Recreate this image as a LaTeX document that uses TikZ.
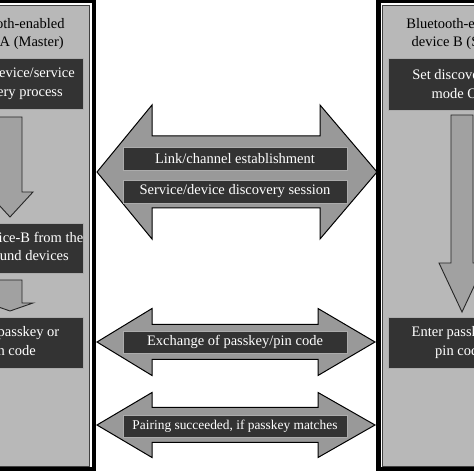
\documentclass[tikz,border=0pt]{standalone}
\usepackage{fontspec}
\setmainfont{Liberation Serif}
\definecolor{panelgray}{gray}{0.72}
\definecolor{arrowgray}{gray}{0.63}
\definecolor{bargray}{gray}{0.60}
\definecolor{boxgray}{gray}{0.20}
\begin{document}
\begin{tikzpicture}[x=1pt, y=1pt,
		panel/.style={fill=panelgray, draw=black!75, line width=0.8pt},
		darkbox/.style={fill=boxgray, draw=gray!65, line width=0.8pt, text=white, align=center, inner sep=0pt, font=\fontsize{14.5}{18.5}\selectfont},
		title/.style={align=center, font=\fontsize{14.5}{18}\selectfont},
		downarrow/.style={fill=arrowgray, draw=black!85, line width=0.9pt},
		bar/.style={fill=bargray, draw=black, line width=1pt}]
				\useasboundingbox (0,0) rectangle (474,474);
				\clip (0,0) rectangle (474,474);

				% Draw panels
				\fill[black] (-80,3) rectangle (96,480);
				\fill[white] (-80,6.5) rectangle (91.5,470.5);
				\draw[panel] (-80,8) rectangle (89.5,469);
				\fill[black] (376,3) rectangle (560,480);
				\fill[white] (380.5,6.5) rectangle (560,470.5);
				\draw[panel] (382.5,8) rectangle (560,469);

				% Titles
				\node[title] (titleA) at (11,440) {Bluetooth-enabled\\device A (Master)};
				\node[title] (titleB) at (460,440) {Bluetooth-enabled\\device B (Slave)};

				% Device A steps
				\node[darkbox, minimum width=144, minimum height=51] (startA) at (11,390.5) {Initiate device/service\\discovery process};
				\node[darkbox, minimum width=144, minimum height=50] (selectA) at (11,226) {Select device-B from the\\background devices};
				\node[darkbox, minimum width=144, minimum height=51] (passA) at (11,131.5) {Enter passkey or\\pin code};

				% Device B steps
				\node[darkbox, minimum width=144, minimum height=52] (discB) at (460,390) {Set discoverable\\mode ON};
				\node[darkbox, minimum width=144, minimum height=51] (passB) at (460,131.5) {Enter passkey or\\pin code};

				% Down arrows
				\draw[downarrow] (-2,357) -- (22,357) -- (22,282) -- (33,282) -- (10,257) -- (-13,282) -- (-2,282) -- cycle;
				\draw[downarrow] (-2,194) -- (22,194) -- (22,171) -- (33,171) -- (10,163) -- (-13,171) -- (-2,171) -- cycle;
				\draw[downarrow] (451,359) -- (473,359) -- (473,211) -- (485,211) -- (462,162) -- (439,211) -- (451,211) -- cycle;

				% Double arrows between the devices
				\foreach \yc/\hh/\sh/\xb/\xr in {302/67/36/320/377, 132/33.5/17.5/318/375, 49/32.5/17.5/318/375}
					\draw[bar] (97,\yc) -- (152,\yc+\hh) -- (152,\yc+\sh) -- (\xb,\yc+\sh) -- (\xb,\yc+\hh) -- (\xr,\yc)
						-- (\xb,\yc-\hh) -- (\xb,\yc-\sh) -- (152,\yc-\sh) -- (152,\yc-\hh) -- cycle;

				% Labels
				\node[darkbox, minimum width=224, minimum height=23] (link) at (235,315.5) {Link/channel establishment};
				\node[darkbox, minimum width=224, minimum height=23] (discovery) at (235,282.5) {Service/device discovery session};
				\node[darkbox, minimum width=224, minimum height=22] (exchange) at (235,132) {Exchange of passkey/pin code};
				\node[darkbox, minimum width=224, minimum height=22, font=\fontsize{13.4}{16}\selectfont] (pairing) at (235,48) {Pairing succeeded, if passkey matches};
			\end{tikzpicture}
\end{document}
